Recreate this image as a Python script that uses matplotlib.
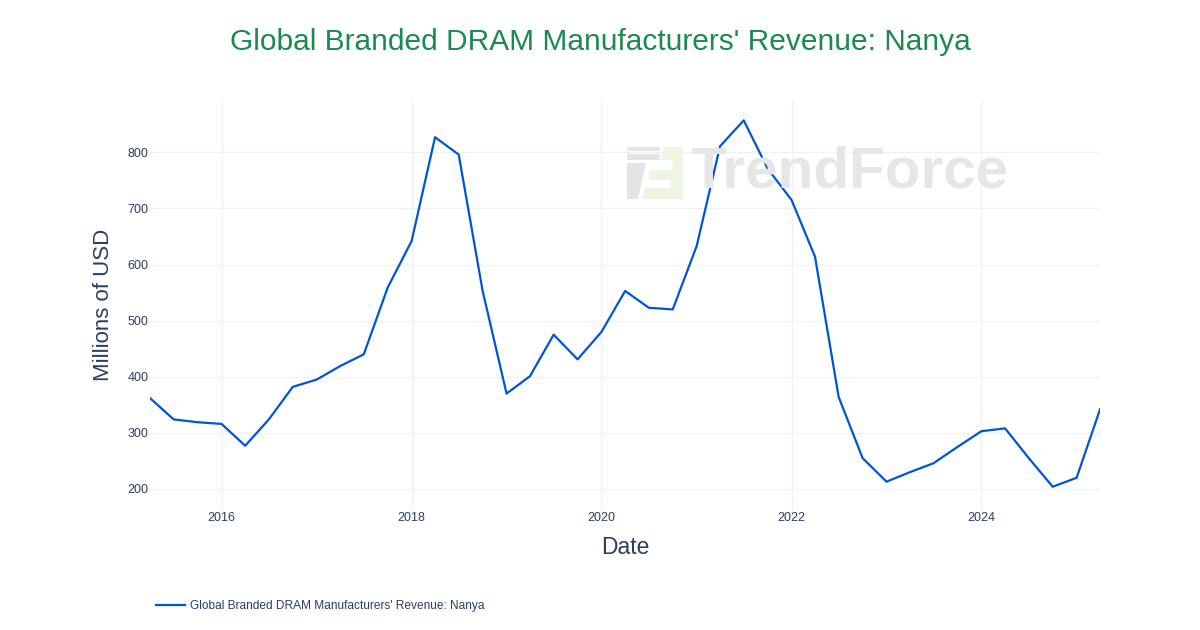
import numpy as np
import pandas as pd
import matplotlib
matplotlib.use("Agg")
import matplotlib.pyplot as plt
import matplotlib.dates as mdates
from matplotlib.patches import Polygon

plt.rcParams['font.family'] = ['Liberation Sans', 'DejaVu Sans']

# quarterly revenue, millions of USD
dates = pd.date_range('2015-04-01', periods=41, freq='QS')
revenue = [362, 324, 319, 316, 277, 324, 382, 395, 419, 440,
           559, 642, 827, 796, 553, 370, 401, 475, 431, 480,
           553, 523, 520, 633, 811, 857, 771, 715, 614, 364,
           255, 213, 230, 246, 275, 303, 308, 255, 204, 220, 342]
series_name = "Global Branded DRAM Manufacturers' Revenue: Nanya"
yticks = [200, 300, 400, 500, 600, 700, 800]

txt = '#2a3f5f'
fig = plt.figure(figsize=(12, 6.3), dpi=100)
ax = fig.add_axes([0.125, 0.19, 0.7917, 0.651])

# watermark (text + rough logo, in figure pixels)
fig.text(849 / 1200, 1 - 173 / 630, 'TrendForce', ha='center', va='center',
         fontsize=42, fontweight='bold', color='#e6e6e6', zorder=0)
def px(pts):
    return [(x / 1200, 1 - y / 630) for x, y in pts]
logo = [
    (px([(627, 147), (660, 147), (660, 151), (627, 151)]), '#e4e4e4'),
    (px([(627, 154), (660, 154), (660, 160), (627, 160)]), '#e4e4e4'),
    (px([(627, 163), (646, 163), (638, 199), (627, 199)]), '#e4e4e4'),
    (px([(664, 147), (683, 147), (683, 199), (642, 199), (645, 188), (670, 188),
         (671, 180), (648, 180), (650, 170), (672, 170), (673, 160), (661, 160)]), '#eef4e2'),
]
for pts, c in logo:
    fig.patches.append(Polygon(pts, closed=True, transform=fig.transFigure,
                               facecolor=c, edgecolor='none', zorder=0))

ax.set_facecolor('none')
ax.plot(dates, revenue, color='#0055d4', lw=1.6, label=series_name, zorder=3)

ax.set_xlim(dates[0], dates[-1])
ax.set_ylim(162, 893)
ax.set_yticks(yticks)
ax.xaxis.set_major_locator(mdates.YearLocator(2))
ax.xaxis.set_major_formatter(mdates.DateFormatter('%Y'))
ax.grid(True, color='#eef1f6', lw=1)
for s in ax.spines.values():
    s.set_visible(False)
ax.tick_params(length=0, labelsize=9, labelcolor=txt, pad=1)

ax.set_xlabel('Date', fontsize=16.5, color=txt, labelpad=9)
ax.set_ylabel('Millions of USD', fontsize=16, color=txt, labelpad=10)
fig.suptitle(series_name, x=0.5, y=0.955, fontsize=21.5, color='#1a8a4f')

fig.legend(loc='lower left', bbox_to_anchor=(0.121, 0.012), frameon=False,
           fontsize=8.6, labelcolor=txt, handlelength=2.4, handletextpad=0.45)

fig.savefig('out.png', dpi=100, facecolor='white')
